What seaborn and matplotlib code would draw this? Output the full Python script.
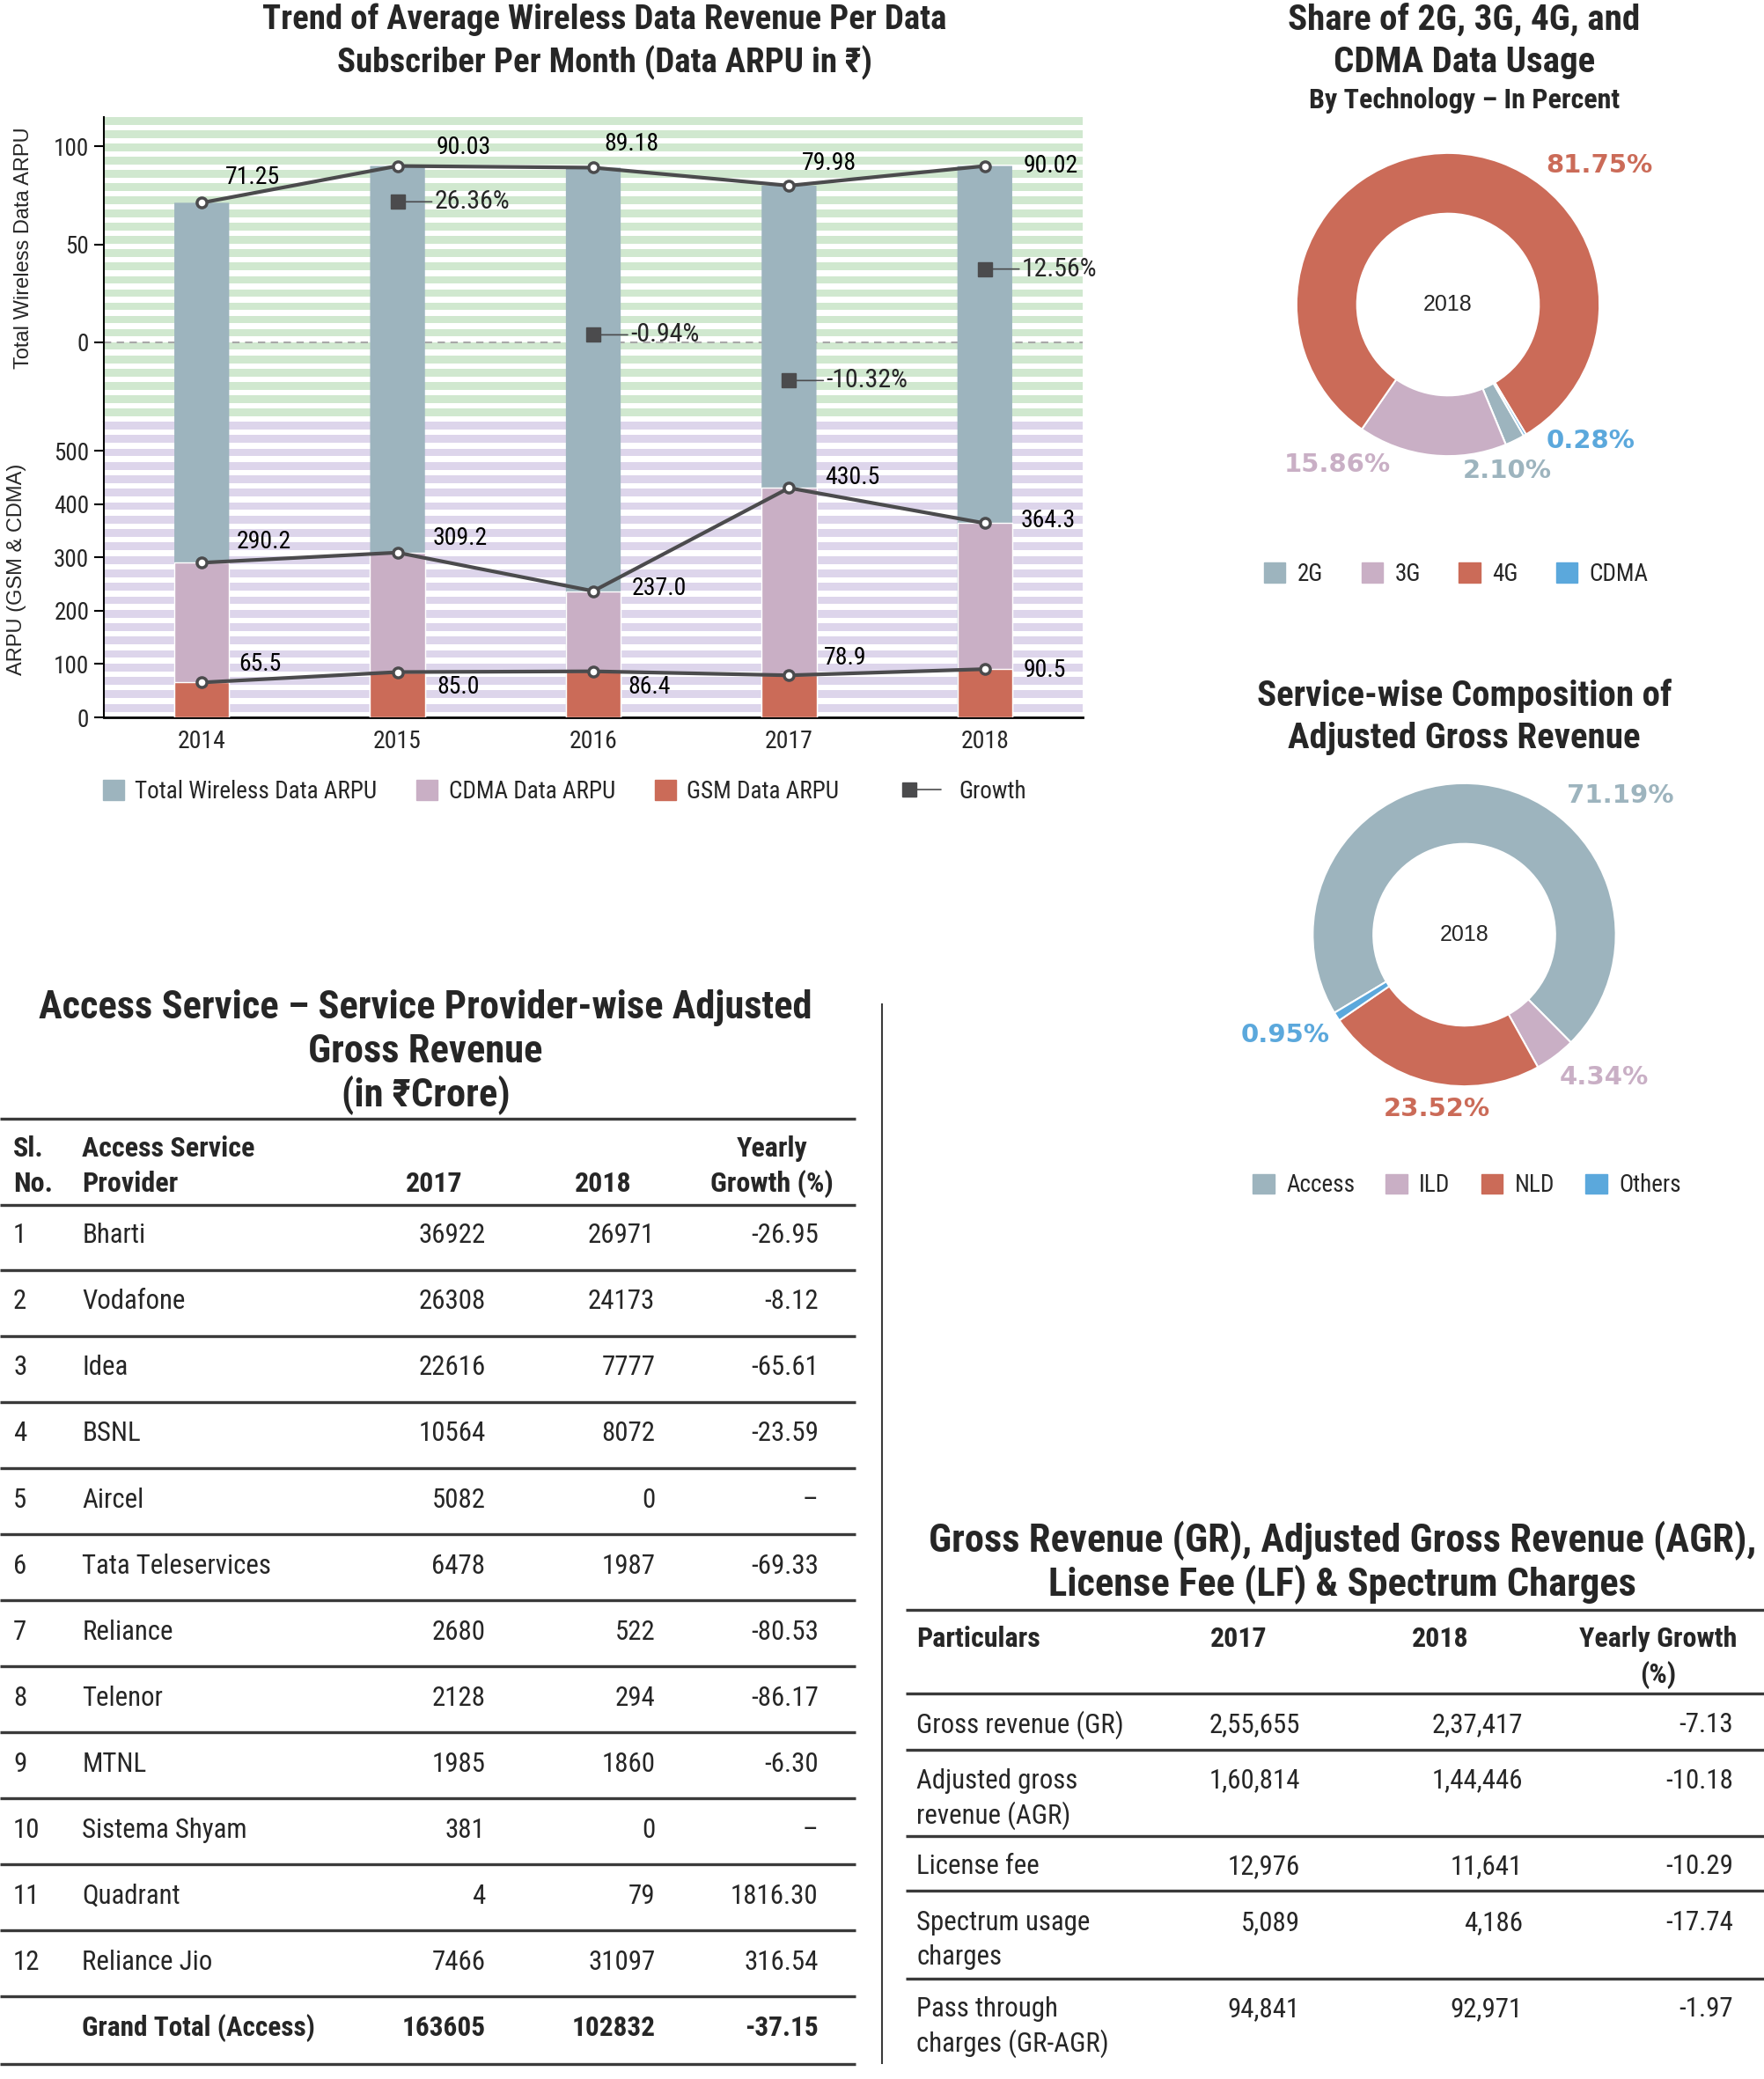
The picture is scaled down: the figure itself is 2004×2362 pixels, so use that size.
import numpy as np
import matplotlib
matplotlib.use("Agg")
import matplotlib.pyplot as plt
from matplotlib.patches import Patch
from matplotlib.lines import Line2D
from matplotlib.legend_handler import HandlerLine2D
import seaborn as sns

# ---------------- data ----------------
years = ["2014", "2015", "2016", "2017", "2018"]
total_arpu = [71.25, 90.03, 89.18, 79.98, 90.02]
cdma_arpu = [290.2, 309.2, 237.0, 430.5, 364.3]
gsm_arpu = [65.5, 85.0, 86.4, 78.9, 90.5]
growth = [None, 26.36, -0.94, -10.32, 12.56]

tech_labels = ["2G", "3G", "4G", "CDMA"]
tech_share = [2.10, 15.86, 81.75, 0.28]

service_labels = ["Access", "ILD", "NLD", "Others"]
service_share = [71.19, 4.34, 23.52, 0.95]

providers = ["Bharti", "Vodafone", "Idea", "BSNL", "Aircel", "Tata Teleservices",
             "Reliance", "Telenor", "MTNL", "Sistema Shyam", "Quadrant", "Reliance Jio"]
agr_2017 = [36922, 26308, 22616, 10564, 5082, 6478, 2680, 2128, 1985, 381, 4, 7466]
agr_2018 = [26971, 24173, 7777, 8072, 0, 1987, 522, 294, 1860, 0, 79, 31097]
agr_growth = [-26.95, -8.12, -65.61, -23.59, None, -69.33, -80.53, -86.17, -6.30, None, 1816.30, 316.54]
agr_total = ["Grand Total (Access)", 163605, 102832, -37.15]

gr_items = ["Gross revenue (GR)", "Adjusted gross\nrevenue (AGR)", "License fee",
            "Spectrum usage\ncharges", "Pass through\ncharges (GR-AGR)"]
gr_2017 = ["2,55,655", "1,60,814", "12,976", "5,089", "94,841"]
gr_2018 = ["2,37,417", "1,44,446", "11,641", "4,186", "92,971"]
gr_growth = [-7.13, -10.18, -10.29, -17.74, -1.97]

# ---------------- style ----------------
sns.set_theme(style="white")
COND = ["Roboto Condensed", "Liberation Sans Narrow", "DejaVu Sans"]
PLAIN = ["Liberation Sans", "DejaVu Sans"]
plt.rcParams["font.family"] = COND

c_total = "#9db4be"
c_cdma = "#c9afc5"
c_gsm = "#cb6b58"
c_blue = "#5ba8dc"
c_dark = "#4b4b4d"
c_green = "#d0e8cf"
c_purple = "#ddd5eb"

W, H = 1330, 1568  # layout grid (reference scale)
FW, FH = 2004, 2362
fig = plt.figure(figsize=(FW / 100, FH / 100), dpi=100)


def frac(x0, y0, x1, y1):
    X0, X1 = round(x0 * FW / W), round(x1 * FW / W)
    Y0, Y1 = round(y0 * FH / H), round(y1 * FH / H)
    return [X0 / FW, 1 - Y1 / FH, (X1 - X0) / FW, (Y1 - Y0) / FH]


class GrowthHandler(HandlerLine2D):
    # square at the left end of the line only
    def create_artists(self, *args, **kwargs):
        arts = super().create_artists(*args, **kwargs)
        for a in arts:
            a.set_markevery([0])
        return arts


# layout layer for titles, tables and rules
lay = fig.add_axes([0, 0, 1, 1])
lay.set_xlim(0, W)
lay.set_ylim(H, 0)
lay.axis("off")


def stripes(ax, color):
    lo, hi = ax.get_ylim()
    h_px = ax.get_position().height * FH
    n = int(round(h_px / 15))
    step = (hi - lo) / n
    for k in range(n):
        top = hi - k * step
        ax.axhspan(top - 0.58 * step, top, color=color, lw=0, zorder=0)


# ---------------- chart 1: ARPU trend ----------------
x = np.arange(len(years))
ax_top = fig.add_axes(frac(78, 88, 816, 318))
ax_bot = fig.add_axes(frac(78, 318, 816, 541))
for ax in (ax_top, ax_bot):
    ax.patch.set_visible(False)

sns.barplot(x=years, y=cdma_arpu, ax=ax_bot, color=c_cdma, width=0.28,
            saturation=1, errorbar=None, zorder=3)
sns.barplot(x=years, y=gsm_arpu, ax=ax_bot, color=c_gsm, width=0.28,
            saturation=1, errorbar=None, zorder=4)
ax_bot.set_ylim(0, 555)
ax_bot.set_xlim(-0.5, 4.5)
ax_bot.bar(x, ax_bot.get_ylim()[1], width=0.28, color=c_total, lw=0, snap=False, zorder=2)
stripes(ax_bot, c_purple)

ax_top.set_ylim(-40.5, 115)
ax_top.set_xlim(-0.5, 4.5)
lo = ax_top.get_ylim()[0]
ax_top.bar(x, np.array(total_arpu) - lo, bottom=lo, width=0.28, color=c_total,
           lw=0, snap=False, zorder=2)
ax_top.axhline(0, color="#a8a8a8", ls=(0, (4, 3)), lw=1.5, zorder=1)
stripes(ax_top, c_green)

line_kw = dict(color=c_dark, lw=3, marker="o", ms=8, mfc="white", mec=c_dark, mew=2.5, zorder=6)
ax_top.plot(x, total_arpu, **line_kw)
ax_bot.plot(x, cdma_arpu, **line_kw)
ax_bot.plot(x, gsm_arpu, **line_kw)

lbl_kw = dict(textcoords="offset points", ha="center", va="center", fontsize=20, color="black", zorder=7)
off_total = [(38, -19), (50, -14), (29, -18), (30, -17), (50, 0)]
off_cdma = [(47, -16), (47, -11), (50, -2), (48, -8), (48, -2)]
off_gsm = [(44, -14), (46, 11), (42, 12), (42, -13), (45, 1)]
for ax, vals, offs, fmt in [(ax_top, total_arpu, off_total, "{:.2f}"),
                            (ax_bot, cdma_arpu, off_cdma, "{:.1f}"),
                            (ax_bot, gsm_arpu, off_gsm, "{:.1f}")]:
    for i, v in enumerate(vals):
        dx, dy = offs[i]
        ax.annotate(fmt.format(v), (i, v), xytext=(dx * 1.085, -dy * 1.085), **lbl_kw)

ax_g = ax_top.twinx()
ax_g.set_ylim(-18.75, 43.75)
ax_g.axis("off")
for i, g in enumerate(growth):
    if g is None:
        continue
    ax_g.plot(i, g, marker="s", ms=12, color=c_dark, ls="none", zorder=6)
    ax_g.annotate(f"{g:.2f}%", (i, g), xytext=(i + 0.19, g), ha="left", va="center",
                  fontsize=21.5, arrowprops=dict(arrowstyle="-", color=c_dark, lw=1.2,
                                                 shrinkA=0, shrinkB=1))

for ax in (ax_top, ax_bot):
    for s in ("top", "right"):
        ax.spines[s].set_visible(False)
    ax.spines["left"].set_color("black")
    ax.spines["left"].set_linewidth(1.5)
    ax.tick_params(axis="y", length=8, width=1.5, pad=4, labelsize=19.5, left=True, color="black")
    ax.set_xlabel("")
ax_top.spines["bottom"].set_visible(False)
ax_top.tick_params(axis="x", bottom=False, labelbottom=False)
ax_bot.spines["bottom"].set_color("black")
ax_bot.spines["bottom"].set_linewidth(2)
ax_bot.tick_params(axis="x", length=0, pad=10, labelsize=20)
ax_top.set_yticks([0, 50, 100])
ax_bot.set_yticks([0, 100, 200, 300, 400, 500])
ax_top.set_ylabel("Total Wireless Data ARPU", family=PLAIN, fontsize=17)
ax_bot.set_ylabel("ARPU (GSM & CDMA)", family=PLAIN, fontsize=17)
ax_top.yaxis.set_label_coords(-0.072, 0.57)
ax_bot.yaxis.set_label_coords(-0.079, 0.50)

for y, t in [(15, "Trend of Average Wireless Data Revenue Per Data"),
             (47, "Subscriber Per Month (Data ARPU in ₹)")]:
    lay.text(456, y, t, ha="center", va="center", fontsize=28, fontweight="bold")

h1 = [Patch(color=c_total, label="Total Wireless Data ARPU"),
      Patch(color=c_cdma, label="CDMA Data ARPU"),
      Patch(color=c_gsm, label="GSM Data ARPU")]
fig.legend(handles=h1, loc="center", bbox_to_anchor=(355 / W, 1 - 597 / H), ncol=3,
           frameon=False, fontsize=19.5, handlelength=0.9, handleheight=0.9,
           handletextpad=0.45, columnspacing=1.65)
growth_handle = Line2D([], [], color=c_dark, lw=1.2, marker="s", ms=11, label="Growth")
fig.legend(handles=[growth_handle], loc="center", bbox_to_anchor=(727 / W, 1 - 597 / H),
           frameon=False, fontsize=19.5, handlelength=1.9, handletextpad=0.45,
           handler_map={growth_handle: GrowthHandler(numpoints=2)})


# ---------------- donuts ----------------
def donut(cx, cy, values, colors, start, label_pos, title_lines, legend_labels, leg_xy, colsp):
    ax = fig.add_axes(frac(cx - 160, cy - 160, cx + 160, cy + 160))
    ax.pie(values, colors=colors, startangle=start, counterclock=False, radius=1,
           wedgeprops=dict(width=0.4, edgecolor="white", linewidth=1.5))
    ax.set_xlim(-1.4, 1.4)
    ax.set_ylim(-1.4, 1.4)
    ax.set_aspect("equal")
    ax.axis("off")
    ax.text(0, 0, "2018", ha="center", va="center", family=PLAIN, fontsize=18)
    for v, c, (px, py) in zip(values, colors, label_pos):
        ax.text(px, py, f"{v:.2f}%", ha="center", va="center", color=c,
                family=["DejaVu Sans"], fontweight="bold", fontsize=21)
    for y, t, fs in title_lines:
        lay.text(1104, y, t, ha="center", va="center", fontsize=fs, fontweight="bold")
    hs = [Patch(color=c, label=l) for c, l in zip(colors, legend_labels)]
    fig.legend(handles=hs, loc="center", bbox_to_anchor=(leg_xy[0] / W, 1 - leg_xy[1] / H),
               ncol=4, frameon=False, fontsize=19.5, handlelength=0.9, handleheight=0.9,
               handletextpad=0.5, columnspacing=colsp)


donut(1092, 230, tech_share, [c_total, c_cdma, c_gsm, c_blue], 300,
      [(0.39, -1.10), (-0.73, -1.06), (1.0, 0.92), (0.94, -0.90)],
      [(15, "Share of 2G, 3G, 4G, and", 29.5), (47, "CDMA Data Usage", 29.5),
       (76, "By Technology – In Percent", 23)],
      tech_labels, (1098, 433), 1.6)

donut(1104, 705, service_share, [c_total, c_cdma, c_gsm, c_blue], 211,
      [(1.03, 0.92), (0.92, -0.94), (-0.18, -1.15), (-1.18, -0.66)],
      [(525, "Service-wise Composition of", 29.5), (557, "Adjusted Gross Revenue", 29.5)],
      service_labels, (1106, 894), 1.3)

# ---------------- table 1 ----------------
rule = dict(color="#3a3a3a", lw=2.4)
for y, t in [(760, "Access Service – Service Provider-wise Adjusted"),
             (793, "Gross Revenue"), (826, "(in ₹Crore)")]:
    lay.text(321, y, t, ha="center", va="center", fontsize=32, fontweight="bold")
lay.hlines(844, 0, 645, **rule)
hdr = dict(va="center", fontsize=23, fontweight="bold")
lay.text(10, 866, "Sl.", ha="left", **hdr)
lay.text(10, 893, "No.", ha="left", **hdr)
lay.text(62, 866, "Access Service", ha="left", **hdr)
lay.text(62, 893, "Provider", ha="left", **hdr)
lay.text(327, 893, "2017", ha="center", **hdr)
lay.text(455, 893, "2018", ha="center", **hdr)
lay.text(582, 866, "Yearly", ha="center", **hdr)
lay.text(582, 893, "Growth (%)", ha="center", **hdr)
lay.hlines(909, 0, 645, **rule)

row_h = 49.8
body = dict(va="center", fontsize=22.2)
for i, name in enumerate(providers):
    y = 932 + row_h * i
    lay.text(10, y, str(i + 1), ha="left", **body)
    lay.text(62, y, name, ha="left", **body)
    lay.text(366, y, f"{agr_2017[i]}", ha="right", **body)
    lay.text(494, y, f"{agr_2018[i]}", ha="right", **body)
    g = agr_growth[i]
    lay.text(617, y, "–" if g is None else f"{g:.2f}", ha="right", **body)
    lay.hlines(y + 26, 0, 645, **rule)
yt = 932 + row_h * len(providers)
tot = dict(va="center", fontsize=22.5, fontweight="bold")
lay.text(62, yt, agr_total[0], ha="left", **tot)
lay.text(366, yt, f"{agr_total[1]}", ha="right", **tot)
lay.text(494, yt, f"{agr_total[2]}", ha="right", **tot)
lay.text(617, yt, f"{agr_total[3]:.2f}", ha="right", **tot)
lay.hlines(yt + 27, 0, 645, **rule)

# divider
lay.vlines(665, 757, 1557, color="#3a3a3a", lw=1.5)

# ---------------- table 2 ----------------
for y, t in [(1162, "Gross Revenue (GR), Adjusted Gross Revenue (AGR),"),
             (1195, "License Fee (LF) & Spectrum Charges")]:
    lay.text(1012, y, t, ha="center", va="center", fontsize=32, fontweight="bold")
lay.hlines(1214, 683, 1330, **rule)
lay.text(691, 1236, "Particulars", ha="left", **hdr)
lay.text(934, 1236, "2017", ha="center", **hdr)
lay.text(1086, 1236, "2018", ha="center", **hdr)
lay.text(1250, 1236, "Yearly Growth", ha="center", **hdr)
lay.text(1250, 1263, "(%)", ha="center", **hdr)
lay.hlines(1277, 683, 1330, **rule)

row_y = [1301, 1343, 1408, 1450, 1515]
rule_y = [1320, 1385, 1426, 1492]
for i, item in enumerate(gr_items):
    y = row_y[i]
    for k, part in enumerate(item.split("\n")):
        lay.text(691, y + 26 * k, part, ha="left", **body)
    lay.text(980, y, gr_2017[i], ha="right", **body)
    lay.text(1148, y, gr_2018[i], ha="right", **body)
    lay.text(1307, y, f"{gr_growth[i]:.2f}", ha="right", **body)
for y in rule_y:
    lay.hlines(y, 683, 1330, **rule)

fig.savefig("out.png", dpi=100)
